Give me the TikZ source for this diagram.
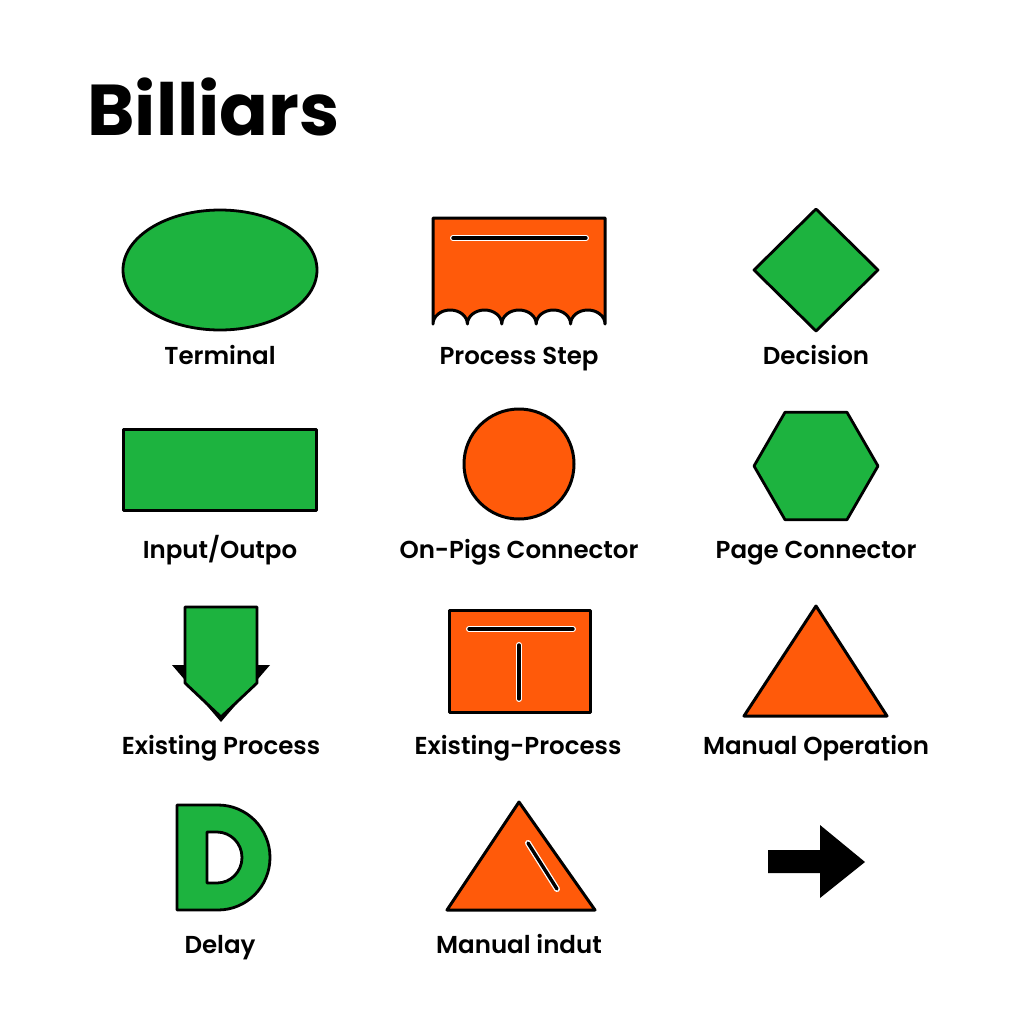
\documentclass[tikz,border=0pt]{standalone}
\usepackage{fontspec}
\setmainfont{Poppins}
\newfontfamily\labelfont{Poppins SemiBold}
\usetikzlibrary{shapes.geometric}

\definecolor{symgreen}{HTML}{1DB33F}
\definecolor{symorange}{HTML}{FF5A0A}

\begin{document}
\begin{tikzpicture}[x=1pt,y=-1pt,line join=round,
	green shape/.style={fill=symgreen,draw=black,line width=2.8pt,inner sep=0pt,outer sep=0pt},
	orange shape/.style={fill=symorange,draw=black,line width=3pt,inner sep=0pt,outer sep=0pt},
	bar/.style={draw=white,line width=6pt,line cap=round,postaction={draw=black,line width=3.4pt,line cap=round}},
	sym label/.style={anchor=base,font=\labelfont\fontsize{24.5}{27}\selectfont}]
\useasboundingbox[fill=white] (0,0) rectangle (1031,1031);
\node[anchor=base west,font=\bfseries\fontsize{72}{78}\selectfont] (title) at (84,135) {Billiars};

% row 1
\node[green shape,ellipse,minimum width=194,minimum height=120] (terminal) at (220,270) {};
\path[orange shape] (433,324) -- (433,218) -- (605,218) -- (605,324)
	arc (0:-180:17.2 and 14) arc (0:-180:17.2 and 14) arc (0:-180:17.2 and 14)
	arc (0:-180:17.2 and 14) arc (0:-180:17.2 and 14) -- cycle;
\coordinate (stepL) at (453,238);
\coordinate (stepR) at (586,238);
\draw[bar] (stepL) -- (stepR);
\node[green shape,diamond,minimum width=124,minimum height=122] (decision) at (816,270) {};
\node[sym label] (lterminal) at (220,364) {Terminal};
\node[sym label] (lstep) at (519,364) {Process Step};
\node[sym label] (ldecision) at (816,364) {Decision};

% row 2
\node[green shape,rectangle,minimum width=193,minimum height=81] (inout) at (220,470) {};
\node[orange shape,circle,minimum size=110] (onpage) at (519,464) {};
\node[green shape,regular polygon,regular polygon sides=6,minimum size=124] (offpage) at (816,466) {};
\node[sym label] (linout) at (220,558) {Input/Outpo};
\node[sym label] (lonpage) at (519,558) {On-Pigs Connector};
\node[sym label] (loffpage) at (816,558) {Page Connector};

% row 3
\fill[black] (172,665) -- (270,665) -- (221,722) -- cycle;
\path[green shape] (185,607) -- (257,607) -- (257,683) -- (221,717) -- (185,683) -- cycle;
\node[orange shape,rectangle,minimum width=141,minimum height=102] (existing) at (519.5,661) {};
\coordinate (exL) at (469,629);
\coordinate (exR) at (573,629);
\coordinate (exT) at (519,645);
\coordinate (exB) at (519,699);
\draw[bar] (exL) -- (exR);
\draw[bar] (exT) -- (exB);
\path[orange shape] (816,606) -- (887,716) -- (744,716) -- cycle;
\node[sym label] (lexisting) at (221,754) {Existing Process};
\node[sym label] (lexisting2) at (518,754) {Existing-Process};
\node[sym label] (lmanual) at (816,754) {Manual Operation};

% row 4
\path[green shape,even odd rule] (177,805) -- (218,805) arc (-90:90:52 and 52.5) -- (177,910) -- cycle
	(207,832) -- (217,832) arc (-90:90:25 and 25.5) -- (207,883) -- cycle;
\path[orange shape] (519,802) -- (595,910) -- (447,910) -- cycle;
\coordinate (slashA) at (528,843);
\coordinate (slashB) at (557,889);
\draw[bar] (slashA) -- (slashB);
\fill[black] (768,850) -- (820,850) -- (820,825) -- (865,862) -- (820,898) -- (820,873) -- (768,873) -- cycle;
\node[sym label] (ldelay) at (220,953) {Delay};
\node[sym label] (linput) at (519,953) {Manual indut};
\end{tikzpicture}
\end{document}
